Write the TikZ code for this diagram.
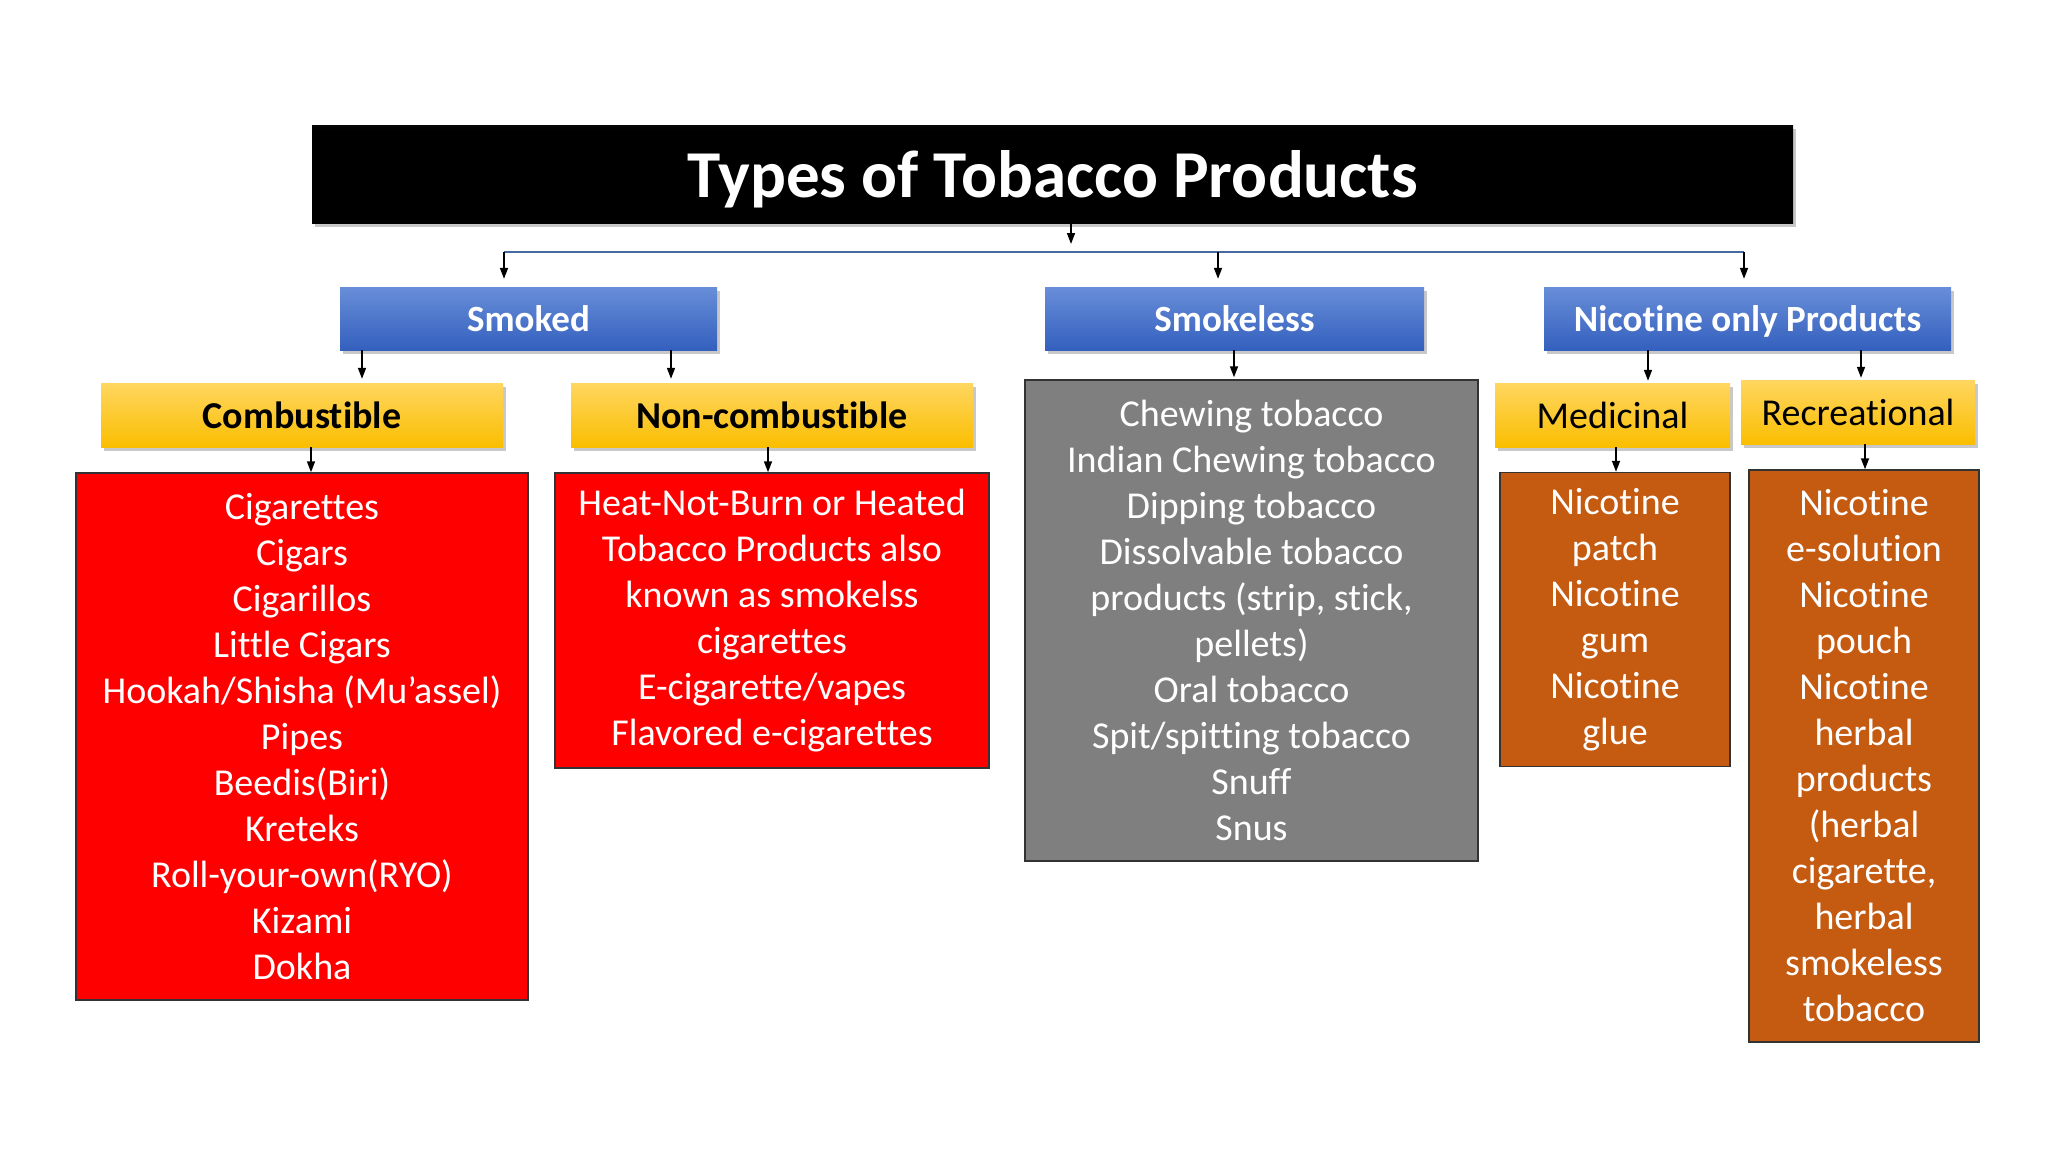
\documentclass[tikz,border=0pt]{standalone}
\usepackage{fontspec}
\setmainfont[Ligatures=NoCommon,RawFeature={-liga;-clig;-calt}]{Carlito}
\usetikzlibrary{arrows.meta,shadows}
\definecolor{bluetop}{RGB}{104,142,216}
\definecolor{bluebot}{RGB}{52,96,190}
\definecolor{yeltop}{RGB}{255,214,96}
\definecolor{yelbot}{RGB}{250,190,0}
\definecolor{redfill}{RGB}{255,0,0}
\definecolor{grayfill}{RGB}{128,127,128}
\definecolor{orangefill}{RGB}{197,90,17}
\definecolor{hubline}{RGB}{70,105,160}
\pgfdeclareverticalshading{titleshade}{100bp}{color(0bp)=(black); color(72bp)=(black); color(90bp)=(black!85); color(100bp)=(black!50)}
\begin{document}
\begin{tikzpicture}[x=1pt,y=-1pt,
  shad/.style={drop shadow={shadow xshift=3pt,shadow yshift=-4pt,opacity=.3,fill=black!70}},
  titlebox/.style={shad,inner sep=0pt,shading=titleshade,text depth=0pt,
    text=white,font=\fontsize{67}{80}\selectfont\bfseries},
  bluebox/.style={shad,inner sep=0pt,top color=bluetop,bottom color=bluebot,text depth=0pt,
    text=white,font=\fontsize{37}{44}\selectfont\bfseries},
  yelbox/.style={shad,inner sep=0pt,top color=yeltop,bottom color=yelbot,text depth=0pt,
    text=black,font=\fontsize{38}{46}\selectfont\bfseries},
  yelboxr/.style={yelbox,font=\fontsize{38}{46}\selectfont},
  listbox/.style={draw=black!80,line width=1.5pt,inner sep=0pt,align=center,
    text=white,font=\fontsize{38}{46}\selectfont},
  arr/.style={line width=1.6pt,-{Triangle[length=11pt,width=8pt]}}]
\useasboundingbox (0,0) rectangle (2048,1152);
\fill[white] (0,0) rectangle (2048,1152);

% boxes
\node[titlebox,minimum width=1481pt,minimum height=98pt] (title) at (1052.5,174) {Types of Tobacco Products};

\node[bluebox,minimum width=377pt,minimum height=63pt] (smoked) at (528.5,318.5) {Smoked};
\node[bluebox,minimum width=379pt,minimum height=63pt] (smokeless) at (1234.5,318.5) {Smokeless};
\node[bluebox,minimum width=407pt,minimum height=63pt] (nicotine) at (1747.5,318.5) {Nicotine only Products};

\node[yelbox,minimum width=402pt,minimum height=64pt] (comb) at (302,415) {Combustible};
\node[yelbox,minimum width=402pt,minimum height=64pt] (noncomb) at (772,415) {Non-combustible};
\node[yelboxr,minimum width=235pt,minimum height=64pt] (medic) at (1612.5,415) {Medicinal};
\node[yelboxr,minimum width=234pt,minimum height=64pt] (recre) at (1858,412) {Recreational};

\node[listbox,fill=redfill,minimum width=452pt,minimum height=527pt] (list1) at (302,736.5)
  {Cigarettes\\Cigars\\Cigarillos\\Little Cigars\\Hookah/Shisha (Mu’assel)\\Pipes\\Beedis(Biri)\\Kreteks\\Roll-your-own(RYO)\\Kizami\\Dokha};
\node[listbox,fill=redfill,minimum width=434pt,minimum height=295pt] (list2) at (772,620.5)
  {Heat-Not-Burn or Heated\\Tobacco Products also\\known as smokelss\\cigarettes\\E-cigarette/vapes\\Flavored e-cigarettes};
\node[listbox,fill=grayfill,minimum width=453pt,minimum height=481pt] (list3) at (1251.5,620.5)
  {Chewing tobacco\\Indian Chewing tobacco\\Dipping tobacco\\Dissolvable tobacco\\products (strip, stick,\\pellets)\\Oral tobacco\\Spit/spitting tobacco\\Snuff\\Snus};
\node[listbox,fill=orangefill,minimum width=230pt,minimum height=294pt] (list4) at (1615,619.5)
  {Nicotine\\patch\\Nicotine\\gum\\Nicotine\\glue};
\node[listbox,fill=orangefill,minimum width=230pt,minimum height=572pt] (list5) at (1864,756)
  {Nicotine\\e-solution\\Nicotine\\pouch\\Nicotine\\herbal\\products\\(herbal\\cigarette,\\herbal\\smokeless\\tobacco};

% connector coordinates
\coordinate (hub) at (1071,244);
\coordinate (hl) at (504,252);
\coordinate (hm) at (1218,252);
\coordinate (hr) at (1744,252);
\coordinate (xa) at (362,0);
\coordinate (xb) at (671,0);
\coordinate (xc) at (1234,0);
\coordinate (xd) at (1648,0);
\coordinate (xe) at (1861,0);
\coordinate (xf) at (311,0);
\coordinate (xg) at (768,0);
\coordinate (xh) at (1616,0);
\coordinate (xi) at (1865,0);

% connectors
\draw[arr] (title.south -| hub) -- (hub);
\draw[hubline,line width=1.3pt] (hl) -- (hr);
\draw[arr,shorten >=8pt] (hl) -- (smoked.north -| hl);
\draw[arr,shorten >=8pt] (hm) -- (smokeless.north -| hm);
\draw[arr,shorten >=8pt] (hr) -- (nicotine.north -| hr);
\draw[arr,shorten >=4pt] (smoked.south -| xa) -- (comb.north -| xa);
\draw[arr,shorten >=4pt] (smoked.south -| xb) -- (noncomb.north -| xb);
\draw[arr,shorten >=2pt] (smokeless.south -| xc) -- (list3.north -| xc);
\draw[arr,shorten >=2pt] (nicotine.south -| xd) -- (medic.north -| xd);
\draw[arr,shorten >=2pt] (nicotine.south -| xe) -- (recre.north -| xe);
\draw[arr] (comb.south -| xf) -- (list1.north -| xf);
\draw[arr] (noncomb.south -| xg) -- (list2.north -| xg);
\draw[arr] (medic.south -| xh) -- (list4.north -| xh);
\draw[arr] (recre.south -| xi) -- (list5.north -| xi);
\end{tikzpicture}
\end{document}
